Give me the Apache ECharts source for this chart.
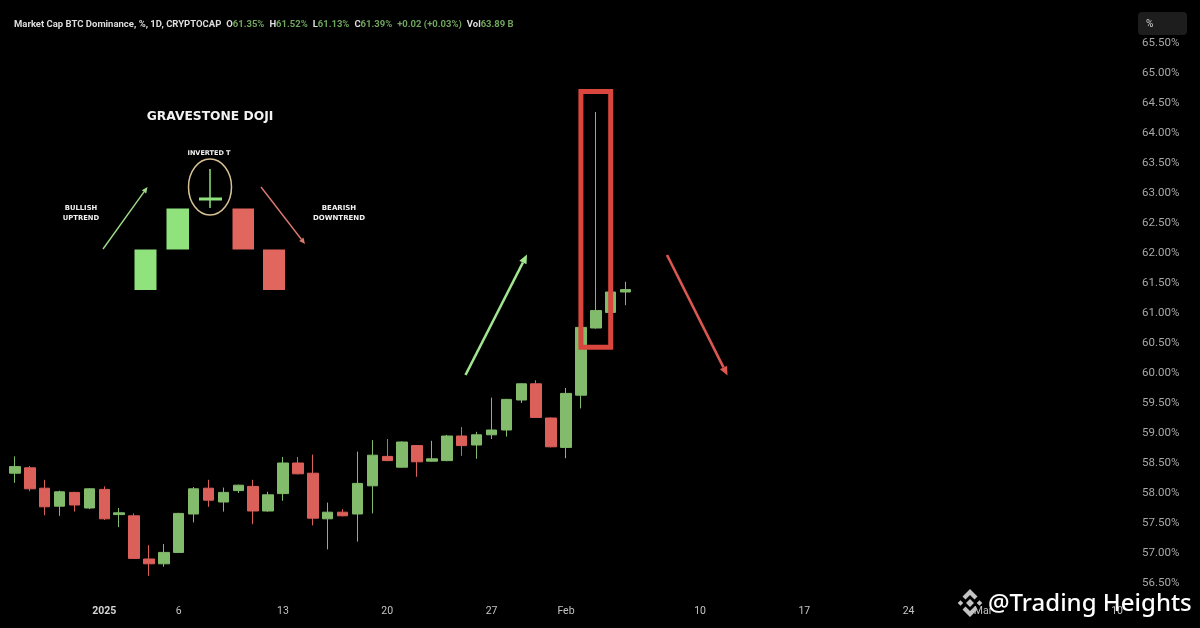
<!DOCTYPE html>
<html>
<head>
<meta charset="utf-8">
<script src="https://cdn.jsdelivr.net/npm/echarts@6/dist/echarts.min.js"></script>
<style>
  html, body { margin: 0; padding: 0; background: #000; }
  #main { width: 1200px; height: 628px; }
</style>
</head>
<body>
<div id="main"></div>
<script>
// ---- data ----
// calendar days shown on the axis (Dec 25 2024 .. Mar 11 2025)
var categories = [];
for (var t = Date.UTC(2024, 11, 25); t <= Date.UTC(2025, 2, 11); t += 86400000) {
    categories.push(new Date(t).toISOString().slice(0, 10));
}
// daily candles Dec 26 .. Feb 5
var opens  = [58.33, 58.42, 58.08, 57.78, 58.01, 57.75, 58.06, 57.64, 57.62, 56.90, 56.82, 57.01, 57.65, 58.08,
              57.85, 58.04, 58.11, 57.70, 57.99, 58.50, 58.33, 57.57, 57.68, 57.65, 58.12, 58.61, 58.43, 58.79,
              58.53, 58.54, 58.95, 58.80, 58.97, 59.05, 59.55, 59.82, 59.25, 58.76, 59.63, 60.75, 61.01, 61.35];
var closes = [58.44, 58.07, 57.77, 58.02, 57.80, 58.07, 57.57, 57.67, 56.91, 56.82, 57.01, 57.66, 58.07, 57.88,
              58.01, 58.13, 57.70, 57.97, 58.50, 58.32, 57.58, 57.68, 57.62, 58.16, 58.63, 58.54, 58.85, 58.52,
              58.57, 58.95, 58.79, 58.97, 59.05, 59.56, 59.82, 59.26, 58.77, 59.66, 60.76, 61.04, 61.35, 61.39];
var lows   = [58.17, 58.03, 57.63, 57.62, 57.69, 57.73, 57.55, 57.43, 56.90, 56.62, 56.77, 57.00, 57.51, 57.77,
              57.69, 58.00, 57.48, 57.69, 57.87, 58.31, 57.46, 57.06, 57.61, 57.19, 57.66, 58.53, 58.42, 58.27,
              58.52, 58.53, 58.62, 58.57, 58.90, 58.94, 59.50, 59.25, 58.76, 58.58, 59.41, 60.74, 61.00, 61.13];
var highs  = [58.61, 58.45, 58.22, 58.04, 58.02, 58.08, 58.11, 57.75, 57.66, 57.13, 57.15, 57.67, 58.10, 58.22,
              58.09, 58.14, 58.22, 58.02, 58.60, 58.60, 58.64, 57.84, 57.73, 58.69, 58.88, 58.90, 58.86, 58.80,
              58.87, 58.97, 59.10, 59.02, 59.59, 59.57, 59.83, 59.88, 59.26, 59.75, 60.77, 64.35, 61.37, 61.52];
var xLabels = {
    '2025-01-01': '2025', '2025-01-06': '6', '2025-01-13': '13', '2025-01-20': '20', '2025-01-27': '27',
    '2025-02-01': 'Feb', '2025-02-10': '10', '2025-02-17': '17', '2025-02-24': '24', '2025-03-01': 'Mar',
    '2025-03-10': '10'
};
var yMin = 56.5, yMax = 65.5, yStep = 0.5;
// highlighted gravestone candle box
var boxDates = ['2025-02-02', '2025-02-04'];
var boxRange = [60.43, 64.69];

var UP = '#82bb6b', DOWN = '#dc605a';

var candleData = [];
for (var i = 0; i < opens.length; i++) {
    candleData.push([categories[i + 1], opens[i], closes[i], lows[i], highs[i]]);
}

// ---- annotation helpers ----
function arrow(x1, y1, x2, y2, color, w, head) {
    var a = Math.atan2(y2 - y1, x2 - x1);
    var hx = x2 - head * Math.cos(a), hy = y2 - head * Math.sin(a);
    var px = Math.sin(a) * head * 0.45, py = -Math.cos(a) * head * 0.45;
    return {
        type: 'group', silent: true,
        children: [
            { type: 'line', shape: { x1: x1, y1: y1, x2: hx, y2: hy }, style: { stroke: color, lineWidth: w } },
            { type: 'polygon', shape: { points: [[x2, y2], [hx + px, hy + py], [hx - px, hy - py]] }, style: { fill: color } }
        ]
    };
}
function label(x, y, text, size, align) {
    return {
        type: 'text', x: x, y: y, silent: true,
        style: {
            text: text, fill: '#f2f2f2', font: 'bold ' + size + 'px "DejaVu Sans"',
            align: align || 'center', verticalAlign: 'middle', lineHeight: size * 1.5
        }
    };
}
function diamond(cx, cy, r) {
    return [[cx, cy - r], [cx + r, cy], [cx, cy + r], [cx - r, cy]];
}

var IG = '#8fe27c', IR = '#e0665e';
var inset = [
    label(210, 117, 'GRAVESTONE DOJI', 12.3),
    label(209, 153, 'INVERTED T', 6.5),
    label(81, 213, 'BULLISH\nUPTREND', 6.8),
    label(339, 213, 'BEARISH\nDOWNTREND', 7),
    { type: 'rect', shape: { x: 134.5, y: 249.5, width: 22, height: 40.5 }, style: { fill: IG } },
    { type: 'rect', shape: { x: 166.5, y: 208.5, width: 22.5, height: 41 }, style: { fill: IG } },
    { type: 'rect', shape: { x: 232.5, y: 208.5, width: 21.5, height: 41 }, style: { fill: IR } },
    { type: 'rect', shape: { x: 263, y: 249.5, width: 22, height: 40.5 }, style: { fill: IR } },
    { type: 'ellipse', shape: { cx: 210, cy: 187, rx: 21.5, ry: 28 }, style: { fill: 'none', stroke: '#d6c295', lineWidth: 1.5 } },
    { type: 'line', shape: { x1: 210, y1: 169, x2: 210, y2: 208 }, style: { stroke: IG, lineWidth: 1.5 } },
    { type: 'rect', shape: { x: 199, y: 197.5, width: 23, height: 3 }, style: { fill: IG } },
    arrow(103, 249, 147.5, 187, '#9edb8c', 1.4, 6),
    arrow(261, 187, 305, 244, '#dc7a70', 1.4, 6),
    // trend arrows on the chart
    arrow(465.5, 375, 527, 254.5, '#a2e58f', 2.6, 9),
    arrow(667, 255, 727.5, 375.5, '#dc5751', 2.6, 9)
];

var logo = [
    { type: 'polygon', shape: { points: diamond(970, 603, 4) }, style: { fill: '#c4c4c4' } },
    { type: 'polygon', shape: { points: diamond(960.5, 603, 2.8) }, style: { fill: '#c4c4c4' } },
    { type: 'polygon', shape: { points: diamond(979.5, 603, 2.8) }, style: { fill: '#c4c4c4' } },
    { type: 'polygon', shape: { points: [[970, 589], [977.5, 596.5], [974.5, 599.5], [970, 595], [965.5, 599.5], [962.5, 596.5]] }, style: { fill: '#c4c4c4' } },
    { type: 'polygon', shape: { points: [[970, 617], [977.5, 609.5], [974.5, 606.5], [970, 611], [965.5, 606.5], [962.5, 609.5]] }, style: { fill: '#c4c4c4' } }
];

var chart = echarts.init(document.getElementById('main'));
var option = {
    backgroundColor: '#000',
    animation: false,
    title: {
        left: 9,
        top: 11,
        text: '{t|Market Cap BTC Dominance, %, 1D, CRYPTOCAP}{g|}{k|O}{v|61.35%}{g|}{k|H}{v|61.52%}{g|}{k|L}{v|61.13%}{g|}' +
              '{k|C}{v|61.39%}{g|}{v|+0.02 (+0.03%)}{g|}{k|Vol}{v|63.89 B}',
        textStyle: {
            rich: {
                t: { color: '#dedede', fontSize: 9.5, fontFamily: 'Roboto' },
                k: { color: '#dedede', fontSize: 9.5, fontFamily: 'Roboto' },
                v: { color: '#6fa55d', fontSize: 9.5, fontFamily: 'Roboto' },
                g: { width: 5 }
            }
        }
    },
    grid: { left: 0, right: 68, top: 43, bottom: 45, containLabel: false },
    xAxis: {
        type: 'category',
        data: categories,
        boundaryGap: false,
        axisLine: { show: false },
        axisTick: { show: false },
        splitLine: { show: false },
        axisLabel: {
            margin: 23,
            interval: function (idx, val) { return xLabels[val] !== undefined; },
            formatter: function (val) {
                var s = xLabels[val] || '';
                return s === '2025' ? '{b|2025}' : s;
            },
            color: '#c4c4c4',
            fontSize: 10.5,
            fontFamily: 'Roboto',
            rich: { b: { fontWeight: 'bold', color: '#d4d4d4', fontSize: 10.5, fontFamily: 'Roboto' } }
        }
    },
    yAxis: {
        type: 'value',
        position: 'right',
        min: yMin,
        max: yMax,
        interval: yStep,
        axisLine: { show: false },
        axisTick: { show: false },
        splitLine: { show: false },
        axisLabel: {
            margin: 10,
            color: '#a8a8a8',
            fontSize: 11.5,
            fontFamily: 'Roboto',
            formatter: function (v) { return v.toFixed(2) + '%'; }
        }
    },
    series: [
        {
            name: 'BTC.D',
            type: 'candlestick',
            data: candleData,
            encode: { x: 0, y: [1, 2, 3, 4] },
            barWidth: 11,
            itemStyle: {
                color: UP,
                color0: DOWN,
                borderColor: UP,
                borderColor0: DOWN,
                borderWidth: 1
            }
        }
    ],
    graphic: []
};
chart.setOption(option);

// place the highlight box through the chart's own scales
var pA = chart.convertToPixel({ gridIndex: 0 }, [boxDates[0], boxRange[1]]);
var pB = chart.convertToPixel({ gridIndex: 0 }, [boxDates[1], boxRange[0]]);
var box = {
    type: 'rect', silent: true, z: 100,
    shape: { x: pA[0], y: pA[1], width: pB[0] - pA[0], height: pB[1] - pA[1] },
    style: { fill: 'none', stroke: '#d8463e', lineWidth: 5 }
};

var extras = [
    { type: 'rect', shape: { x: 1138, y: 12, width: 49, height: 23, r: 4 }, style: { fill: '#1d1d1d' } },
    { type: 'text', x: 1146, y: 24, style: { text: '%', fill: '#d6d6d6', font: '10px Roboto', verticalAlign: 'middle' } },
    {
        type: 'text', x: 988, y: 604, z: 200,
        style: { text: '@Trading Heights', fill: '#ffffff', font: '500 24px "Noto Sans"', verticalAlign: 'middle' }
    }
];

chart.setOption({
    graphic: [{ type: 'group', z: 100, children: inset.concat([box], extras, logo) }]
});

window.addEventListener('resize', function () {
    chart.resize();
});
</script>
</body>
</html>
